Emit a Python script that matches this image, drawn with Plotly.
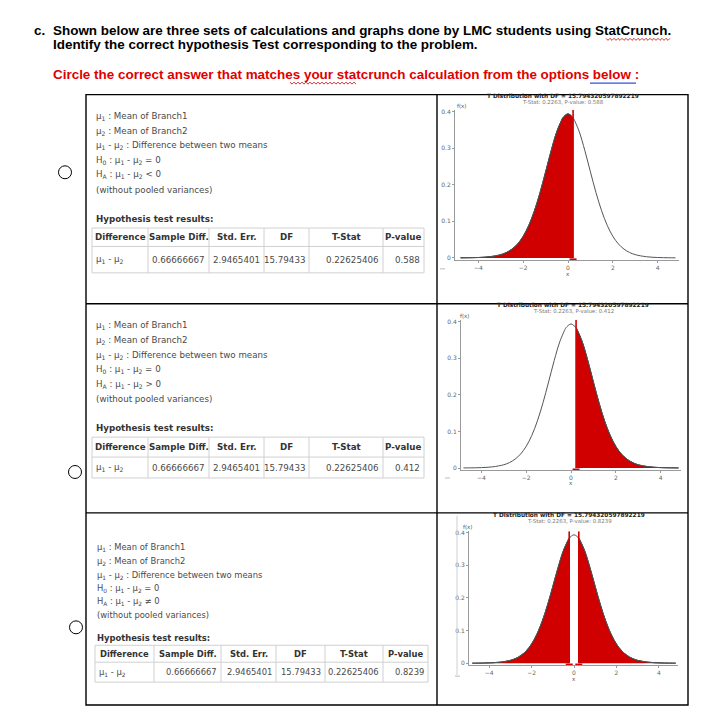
import plotly.graph_objects as go

W, H = 706, 708

# ---------------- data ----------------
ha_signs = ["<", ">", "≠"]
p_values = ["0.588", "0.412", "0.8239"]
table_header = ["Difference", "Sample Diff.", "Std. Err.", "DF", "T-Stat", "P-value"]
row_label = "μ<sub>1</sub> - μ<sub>2</sub>"
sample_diff = "0.66666667"
std_err = "2.9465401"
df_value = "15.79433"
t_stat_value = "0.22625406"
df_full = "15.794320597892219"
t_stat = 0.2263
t_stat_short = "0.2263"
tails = ["left", "right", "two"]

# T density (DF = 15.79)
t_grid = [-4.8, -4.5, -4.0, -3.5, -3.0, -2.75, -2.5, -2.25, -2.0, -1.75, -1.5, -1.25,
          -1.0, -0.75, -0.5, -0.25, -0.2263, 0.0, 0.2263, 0.25, 0.5, 0.75, 1.0, 1.25,
          1.5, 1.75, 2.0, 2.25, 2.5, 2.75, 3.0, 3.5, 4.0, 4.5, 4.8]
density = [0.0002, 0.0004, 0.0011, 0.0032, 0.0089, 0.0148, 0.0240, 0.0382, 0.0592, 0.0890,
           0.1288, 0.1784, 0.2353, 0.2937, 0.3453, 0.3811, 0.3834, 0.3938, 0.3834, 0.3811,
           0.3453, 0.2937, 0.2353, 0.1784, 0.1288, 0.0890, 0.0592, 0.0382, 0.0240, 0.0148,
           0.0089, 0.0032, 0.0011, 0.0004, 0.0002]

x_ticks = [-4, -2, 0, 2, 4]
y_ticks = [0, 0.1, 0.2, 0.3, 0.4]
y_tick_text = ["0", "0.1", "0.2", "0.3", "0.4"]

header_lines = [
    "Shown below are three sets of calculations and graphs done by LMC students using StatCrunch.",
    "Identify the correct hypothesis Test corresponding to the problem.",
]
red_line = "Circle the correct answer that matches your statcrunch calculation from the options below :"

# ---------------- layout geometry (pixels) ----------------
def X(p):
    return p / W


def Y(p):
    return 1 - p / H


RED = "#d10000"
TXT = "#4a4a4a"
BODY_FONT = "DejaVu Sans"

panels = [
    dict(px0=455, px1=679, xr=(-5.045, 4.955), top=108.2, bot=259.2,
         tx=563, ty=94.5, sy=100, fx=(461, 104.5), xl=(568, 273), dash=(442, 268)),
    dict(px0=461, px1=681, xr=(-4.91, 4.91), top=319.2, bot=470.2,
         tx=573, ty=304.5, sy=310, fx=(464, 315), xl=(571, 483), dash=(447, 478)),
    dict(px0=469, px1=678, xr=(-4.953, 4.906), top=531.4, bot=666.0,
         tx=569, ty=515.5, sy=521.5, fx=(467, 527.5), xl=(574, 679.5), dash=(457, 677)),
]

blocks = [
    dict(x=95, ly=[115, 129.7, 144.3, 159, 173.7, 188.3], hy=218,
         cols=[92, 148, 209, 264, 309, 383, 424], rows=[227, 245.5, 272], fs=8.7),
    dict(x=95, ly=[325, 340, 355, 369.5, 384, 399], hy=428,
         cols=[92, 148, 209, 264, 309, 383, 424], rows=[437, 457, 478], fs=8.7),
    dict(x=96, ly=[548, 562, 576, 589, 602.5, 616], hy=639,
         cols=[95, 154, 221, 276, 325, 383, 428], rows=[646, 663, 683], fs=8.4),
]

circles = [(65, 171), (75, 472), (76, 628)]

fig = go.Figure()
annotations = []
shapes = []


def note(x, y, text, size, color="#000", bold=False, anchor="left", family=BODY_FONT):
    annotations.append(dict(
        x=X(x), y=Y(y), xref="paper", yref="paper", text=text, showarrow=False,
        xanchor=anchor, yanchor="middle", borderpad=0,
        font=dict(size=size, color=color, family=family,
                  weight="bold" if bold else "normal"),
    ))


def hline(x0, x1, y, color, width):
    shapes.append(dict(type="line", xref="paper", yref="paper", x0=X(x0), x1=X(x1),
                       y0=Y(y), y1=Y(y), line=dict(color=color, width=width), layer="above"))


def vline(x, y0, y1, color, width):
    shapes.append(dict(type="line", xref="paper", yref="paper", x0=X(x), x1=X(x),
                       y0=Y(y0), y1=Y(y1), line=dict(color=color, width=width), layer="above"))


def esc(s):
    return s.replace("<", "&lt;").replace(">", "&gt;")


# ---------------- header text ----------------
HFONT = "Liberation Sans, Arial"
HSIZE = 13.45
note(33, 29, "c.", HSIZE, "#000", True, family=HFONT)
note(52, 29, header_lines[0], HSIZE, "#000", True, family=HFONT)
note(52, 43, header_lines[1], HSIZE, "#000", True, family=HFONT)
note(52, 73, red_line, HSIZE, "#e00000", True, family=HFONT)


def wavy(x0, x1, y, color):
    pts = []
    x = x0
    up = True
    while x <= x1:
        pts.append((X(x), Y(y - 1 if up else y + 1)))
        up = not up
        x += 2
    path = "M " + " L ".join(f"{a:.5f},{b:.5f}" for a, b in pts)
    shapes.append(dict(type="path", xref="paper", yref="paper", path=path,
                       line=dict(color=color, width=0.8), layer="above"))


wavy(606, 670, 37.5, "#c00000")
wavy(290, 356, 81.5, "#c00000")
hline(590, 636, 81.5, "#3050e0", 1.2)

# ---------------- outer table ----------------
shapes.append(dict(type="rect", xref="paper", yref="paper", x0=X(86), x1=X(688),
                   y0=Y(93), y1=Y(706), line=dict(color="#000", width=1.4), layer="above"))
vline(437, 93, 706, "#000", 1.4)
hline(86, 688, 303, "#000", 1.4)
hline(86, 688, 513, "#000", 1.4)

for cx, cy in circles:
    shapes.append(dict(type="circle", xref="paper", yref="paper",
                       x0=X(cx - 6.5), x1=X(cx + 6.5), y0=Y(cy - 6.5), y1=Y(cy + 6.5),
                       line=dict(color="#000", width=1), layer="above"))

# ---------------- StatCrunch text blocks ----------------
for b, sign, pv in zip(blocks, ha_signs, p_values):
    lines = [
        "μ<sub>1</sub> : Mean of Branch1",
        "μ<sub>2</sub> : Mean of Branch2",
        "μ<sub>1</sub> - μ<sub>2</sub> : Difference between two means",
        "H<sub>0</sub> : μ<sub>1</sub> - μ<sub>2</sub> = 0",
        "H<sub>A</sub> : μ<sub>1</sub> - μ<sub>2</sub> " + esc(sign) + " 0",
        "(without pooled variances)",
    ]
    for ly, t in zip(b["ly"], lines):
        note(b["x"], ly, t, b["fs"], TXT)
    note(b["x"], b["hy"], "Hypothesis test results:", b["fs"], "#333", True)
    cols, rows = b["cols"], b["rows"]
    for r in rows:
        hline(cols[0], cols[-1], r, "#d0d0d0", 1)
    for c in cols:
        vline(c, rows[0], rows[-1], "#d0d0d0", 1)
    hy = (rows[0] + rows[1]) / 2
    dy = (rows[1] + rows[2]) / 2
    for i, h in enumerate(table_header):
        note((cols[i] + cols[i + 1]) / 2, hy, h, b["fs"], "#333", True, anchor="center")
    note(cols[0] + 3, dy, row_label, b["fs"], TXT)
    values = [sample_diff, std_err, df_value, t_stat_value, pv]
    for i, v in enumerate(values):
        note(cols[i + 2] - 3, dy, v, b["fs"], TXT, anchor="right")

# ---------------- t distribution charts ----------------
layout_axes = {}
for k, (p, tail, pv) in enumerate(zip(panels, tails, p_values)):
    n = "" if k == 0 else str(k + 1)
    xa, ya = "x" + n, "y" + n
    if tail == "left":
        regions = [[(x, d) for x, d in zip(t_grid, density) if x <= t_stat]]
        cuts = [t_stat]
    elif tail == "right":
        regions = [[(x, d) for x, d in zip(t_grid, density) if x >= t_stat]]
        cuts = [t_stat]
    else:
        regions = [[(x, d) for x, d in zip(t_grid, density) if x <= -t_stat],
                   [(x, d) for x, d in zip(t_grid, density) if x >= t_stat]]
        cuts = [-t_stat, t_stat]
    for reg in regions:
        fig.add_trace(go.Scatter(
            x=[a for a, _ in reg], y=[d for _, d in reg], xaxis=xa, yaxis=ya,
            mode="lines", line=dict(color="#222", width=1, shape="spline"),
            fill="tozeroy", fillcolor=RED, hoverinfo="skip", showlegend=False))
    fig.add_trace(go.Scatter(
        x=t_grid, y=density, xaxis=xa, yaxis=ya, mode="lines",
        line=dict(color="#555", width=1, shape="spline"),
        hoverinfo="skip", showlegend=False))
    for c in cuts:
        fig.add_trace(go.Scatter(
            x=[c, c], y=[0, 0.405], xaxis=xa, yaxis=ya, mode="lines",
            line=dict(color=RED, width=1.6), hoverinfo="skip", showlegend=False))
        fig.add_trace(go.Scatter(
            x=[c], y=[-0.004], xaxis=xa, yaxis=ya, mode="markers",
            marker=dict(symbol="line-ew", size=5, line=dict(color=RED, width=2)),
            cliponaxis=False, hoverinfo="skip", showlegend=False))

    layout_axes["xaxis" + n] = dict(
        domain=[X(p["px0"]), X(p["px1"])], range=list(p["xr"]), anchor=ya,
        showline=True, linecolor="#9a9a9a", linewidth=1, showgrid=False, zeroline=False,
        ticks="outside", ticklen=2, tickcolor="#9a9a9a", tickvals=x_ticks,
        tickfont=dict(size=6, color="#666", family=BODY_FONT), fixedrange=True)
    layout_axes["yaxis" + n] = dict(
        domain=[Y(p["bot"]), Y(p["top"])], range=[-0.006, 0.405], anchor=xa,
        showline=True, linecolor="#9a9a9a", linewidth=1, showgrid=False, zeroline=False,
        ticks="outside", ticklen=2, tickcolor="#9a9a9a", tickvals=y_ticks,
        ticktext=y_tick_text, tickfont=dict(size=6, color="#666", family=BODY_FONT),
        fixedrange=True)

    note(p["tx"], p["ty"], "T Distribution with DF = " + df_full, 5.8, "#222", True,
         anchor="center")
    note(p["tx"], p["sy"], "T-Stat: " + t_stat_short + ", P-value: " + pv, 5.4, "#777",
         anchor="center")
    note(p["fx"][0], p["fx"][1], "f(x)", 5.5, "#555", anchor="center")
    note(p["xl"][0], p["xl"][1], "x", 5.5, "#555", anchor="center")
    hline(p["dash"][0] - 2, p["dash"][0] + 3, p["dash"][1], "#bbb", 1)

vline(457, 516, 676, "#cfcfcf", 1)

fig.update_layout(
    width=W, height=H, margin=dict(l=0, r=0, t=0, b=0),
    paper_bgcolor="white", plot_bgcolor="white", showlegend=False,
    annotations=annotations, shapes=shapes, **layout_axes)

fig.write_html("out.html", config={"displayModeBar": False, "staticPlot": True},
               post_script="document.body.style.margin='0';document.body.style.padding='0';")
